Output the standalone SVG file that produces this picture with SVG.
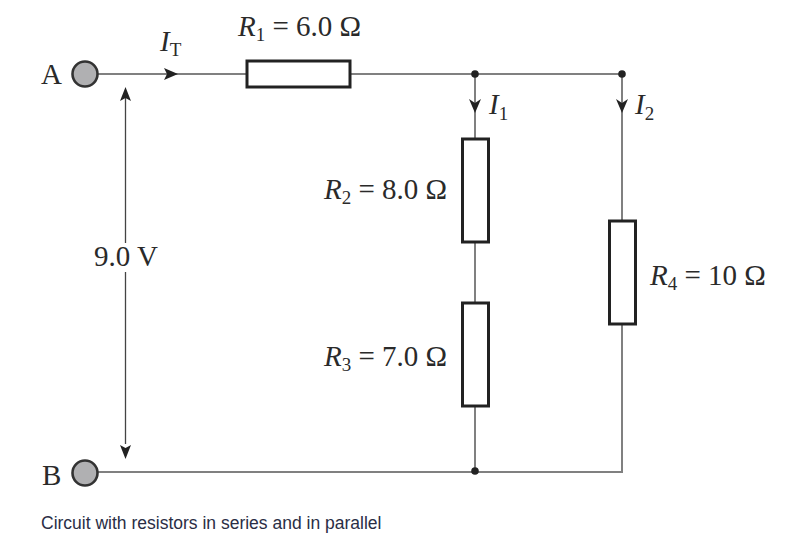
<svg xmlns="http://www.w3.org/2000/svg" width="802" height="540" viewBox="0 0 802 540">
<style>
.w{fill:none;stroke:#808080;stroke-width:2}
.d{fill:none;stroke:#444;stroke-width:1.3}
.h{fill:#222}
.r{fill:#fff;stroke:#222;stroke-width:3}
.t{fill:#b0b0b2;stroke:#333;stroke-width:2.6}
.j{fill:#222}
text{font-family:"Liberation Serif","Times New Roman",serif;font-size:29px;fill:#2a2a2a}
.i{font-style:italic}
.s{font-size:19px}
.c{font-family:"Liberation Sans",Arial,sans-serif;font-size:17.500px;fill:#2a2e45}
</style>
<rect width="802" height="540" fill="#fff"/>
<g id="connectors">
<path class="w" d="M98 74H622V472H98"/>
<path class="w" d="M475 74V472"/>
<path class="d" d="M125.500 96V243M125.500 272V444"/>
<path class="h" d="M178 74L164 68L167 74L164 80Z"/>
<path class="h" d="M475 113L469 99L475 103L481 99Z"/>
<path class="h" d="M622 113L616 99L622 103L628 99Z"/>
<path class="h" d="M125.500 87L120 101L125.500 98L131 101Z"/>
<path class="h" d="M125.500 459L120 445L125.500 448L131 445Z"/>
</g>
<g id="node-A"><circle class="t" cx="85" cy="74" r="12.500"/><text x="41" y="84">A</text></g>
<g id="node-B"><circle class="t" cx="85" cy="473" r="12.500"/><text x="42" y="485">B</text></g>
<g id="junction-top-1"><circle class="j" cx="475" cy="74" r="3.800"/></g>
<g id="junction-top-2"><circle class="j" cx="622" cy="74" r="3.800"/></g>
<g id="junction-bottom"><circle class="j" cx="475" cy="471" r="3.800"/></g>
<g id="R1"><rect class="r" x="247" y="61" width="103" height="26"/><text x="238" y="36"><tspan class="i">R</tspan><tspan class="s" dy="5">1</tspan><tspan dy="-5"> = 6.0 Ω</tspan></text></g>
<g id="R2"><rect class="r" x="462.500" y="139" width="26" height="103"/><text x="324" y="199"><tspan class="i">R</tspan><tspan class="s" dy="5">2</tspan><tspan dy="-5"> = 8.0 Ω</tspan></text></g>
<g id="R3"><rect class="r" x="462.500" y="303" width="26" height="103"/><text x="324" y="366"><tspan class="i">R</tspan><tspan class="s" dy="5">3</tspan><tspan dy="-5"> = 7.0 Ω</tspan></text></g>
<g id="R4"><rect class="r" x="609.500" y="221" width="26" height="103"/><text x="650" y="285"><tspan class="i">R</tspan><tspan class="s" dy="5">4</tspan><tspan dy="-5"> = 10 Ω</tspan></text></g>
<g id="labels">
<text x="160" y="51"><tspan class="i">I</tspan><tspan class="s" dy="5">T</tspan></text>
<text x="489" y="114"><tspan class="i">I</tspan><tspan class="s" dy="6">1</tspan></text>
<text x="635" y="114"><tspan class="i">I</tspan><tspan class="s" dy="6">2</tspan></text>
<text x="94" y="266">9.0 V</text>
<text class="c" x="41" y="529">Circuit with resistors in series and in parallel</text>
</g>
</svg>
